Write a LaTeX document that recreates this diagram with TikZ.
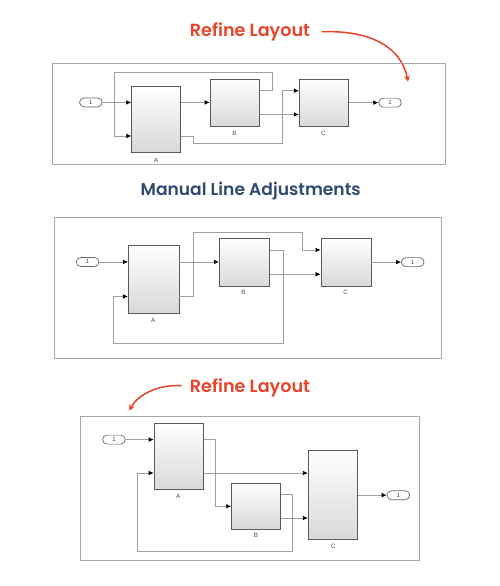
\documentclass[tikz,border=0pt]{standalone}
\usepackage{fontspec}
\setmainfont{Liberation Sans}
\newfontfamily\popsb{Poppins SemiBold}
\usetikzlibrary{arrows.meta,calc}
\definecolor{redtxt}{HTML}{E8432B}
\definecolor{navy}{HTML}{2E4A6E}
\definecolor{wire}{HTML}{A0A0A0}
\definecolor{frm}{HTML}{A8A8A8}
\newcommand\mkports[1]{%
  \coordinate (#1i1) at ($(#1.north west)!.25!(#1.south west)$);
  \coordinate (#1i2) at ($(#1.north west)!.75!(#1.south west)$);
  \coordinate (#1o1) at ($(#1.north east)!.25!(#1.south east)$);
  \coordinate (#1o2) at ($(#1.north east)!.75!(#1.south east)$);}
\begin{document}
\begin{tikzpicture}[x=1pt,y=-1pt,
  blk/.style={draw=black!65,line width=0.8pt,top color=white,bottom color=black!15,inner sep=0pt},
  pill/.style={draw=black!60,line width=0.7pt,rounded corners=4.5pt,minimum width=22.7pt,minimum height=9pt,inner sep=0pt,font=\fontsize{6}{7}\selectfont,text=black!75},
  lbl/.style={font=\fontsize{6.3}{7}\selectfont,text=black!70,inner sep=0pt},
  wirestyle/.style={draw=wire,line width=0.7pt},
  arr/.style={wirestyle,-{Latex[length=5pt,width=4.6pt,black]}},
  panel/.style={draw=frm,line width=1pt},
  ttl/.style={font=\popsb\fontsize{17.6}{20}\selectfont,inner sep=0pt,anchor=base},
  redarr/.style={draw=redtxt,line width=1.5pt,-{Stealth[length=6pt,width=6pt]}}]
\useasboundingbox (0,0) rectangle (500,586);

% ---------- titles ----------
\node[ttl,text=redtxt] (t1) at (250,36.7) {Refine Layout};
\node[ttl,text=navy,font=\popsb\fontsize{17.1}{20}\selectfont] (t2) at (250.7,195) {Manual Line Adjustments};
\node[ttl,text=redtxt] (t3) at (250,392.7) {Refine Layout};
\coordinate (s1) at (321.7,31.7);
\coordinate (e1) at (408,81.7);
\draw[redarr] (s1) .. controls (375,30) and (402,50) .. (e1);
\coordinate (s3) at (181.7,385.7);
\coordinate (e3) at (129.3,410.7);
\draw[redarr] (s3) .. controls (160,384) and (138,394) .. (e3);

% ---------- panel 1 ----------
\draw[panel] (52.7,63.3) rectangle (445,164);
\node[blk,minimum width=49pt,minimum height=66.3pt] (A1) at (156.2,119.2) {};
\node[blk,minimum width=49.3pt,minimum height=46.7pt] (B1) at (234.7,102.6) {};
\node[blk,minimum width=49pt,minimum height=46.7pt] (C1) at (323.8,102.6) {};
\mkports{A1}\mkports{B1}\mkports{C1}
\node[pill] (in1) at ($(A1i1)+(-40.4,0)$) {1};
\node[pill] (out1) at ($(C1.east)+(41.3,0)$) {1};
\node[lbl] (la1) at (156,160) {A};
\node[lbl] (lb1) at (234.5,133.3) {B};
\node[lbl] (lc1) at (323.5,133.3) {C};
\draw[arr] (in1.east) -- (A1i1);
\draw[arr] (A1o1) -- (A1o1 -| B1.west);
\draw[arr] (A1o2) -- ++(12,0) -- ++(0,7.6) -| ($(C1i1)+(-17,0)$) -- (C1i1);
\draw[arr] (B1o1) -- ++(12.4,0) -- ++(0,-18.7) -| ($(A1i2)+(-17.4,0)$) -- (A1i2);
\draw[arr] (B1o2) -- (C1i2);
\draw[arr] (C1.east) -- (out1.west);

% ---------- panel 2 ----------
\draw[panel] (54,217.3) rectangle (441,358);
\node[blk,minimum width=50.7pt,minimum height=68.3pt] (A2) at (153.7,279.2) {};
\node[blk,minimum width=50pt,minimum height=47.7pt] (B2) at (244.3,262.1) {};
\node[blk,minimum width=50pt,minimum height=47.7pt] (C2) at (346,262.1) {};
\mkports{A2}\mkports{B2}\mkports{C2}
\node[pill] (in2) at ($(A2i1)+(-40.35,0)$) {1};
\node[pill] (out2) at ($(C2.east)+(41.3,0)$) {1};
\node[lbl] (la2) at (153.3,320) {A};
\node[lbl] (lb2) at (243.5,292.7) {B};
\node[lbl] (lc2) at (345.7,292.7) {C};
\draw[arr] (in2.east) -- (A2i1);
\draw[arr] (A2o1) -- (A2o1 -| B2.west);
\draw[arr] (A2o2) -- ++(13.7,0) |- ($(C2i1)+(-18.7,-17.5)$) -- ($(C2i1)+(-18.7,0)$) -- (C2i1);
\draw[arr] (B2o1) -- ++(14,0) |- ($(A2i2)+(-15,46.5)$) -- ($(A2i2)+(-15,0)$) -- (A2i2);
\draw[arr] (B2o2) -- (C2i2);
\draw[arr] (C2.east) -- (out2.west);

% ---------- panel 3 ----------
\draw[panel] (80.7,416.7) rectangle (419,560);
\node[blk,minimum width=49.3pt,minimum height=66pt] (A3) at (178.7,456.3) {};
\node[blk,minimum width=49pt,minimum height=46pt] (B3) at (256.2,506.3) {};
\node[blk,minimum width=49pt,minimum height=89.3pt] (C3) at (332.8,495.15) {};
\mkports{A3}\mkports{B3}\mkports{C3}
\node[pill] (in3) at ($(A3i1)+(-39.7,0)$) {1};
\node[pill] (out3) at ($(C3.east)+(40.7,0)$) {1};
\node[lbl] (la3) at (178.3,496.7) {A};
\node[lbl] (lb3) at (256,535.7) {B};
\node[lbl] (lc3) at (333.3,546.7) {C};
\draw[arr] (in3.east) -- (A3i1);
\draw[arr] (A3o1) -- ++(11.7,0) |- (B3.west);
\draw[arr] (A3o2) -- (A3o2 -| C3.west);
\draw[arr] (B3o1) -- ++(11.6,0) |- ($(A3i2)+(-16.7,77.9)$) -- ($(A3i2)+(-16.7,0)$) -- (A3i2);
\draw[arr] (B3o2) -- (B3o2 -| C3.west);
\draw[arr] (C3.east) -- (out3.west);
\end{tikzpicture}
\end{document}
